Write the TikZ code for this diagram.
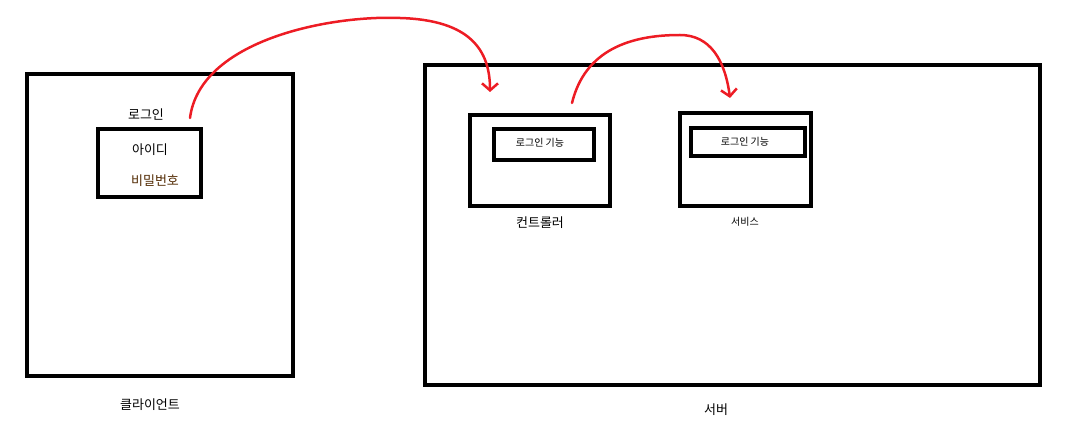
\documentclass[tikz,border=0pt]{standalone}
\usepackage{fontspec}
\newfontfamily\kr{Noto Sans CJK KR}
\usetikzlibrary{arrows.meta}
\begin{document}
\begin{tikzpicture}[x=1pt,y=-1pt,
  box/.style={draw=black,line width=4pt},
  ibox/.style={draw=black,line width=3.5pt},
  lbl/.style={font=\kr\fontsize{13}{15}\selectfont,inner sep=0pt},
  slbl/.style={font=\kr\fontsize{10}{12}\selectfont,inner sep=0pt},
  redarr/.style={draw={rgb,255:red,237;green,28;blue,36},line width=2.5pt,line cap=round,-{Straight Barb[length=7pt,width=16pt,line width=2.5pt]}}]
\useasboundingbox (0,0) rectangle (1070,438);
\draw[box] (27,74) rectangle (293,376);
\draw[ibox] (98,129) rectangle (201,197);
\node[lbl] (login) at (146,115) {로그인};
\node[lbl] (id) at (150,150) {아이디};
\node[lbl,text={rgb,255:red,80;green,40;blue,0}] (pw) at (155,181) {비밀번호};
\node[lbl] (client) at (150,405) {클라이언트};
\draw[box] (425,65) rectangle (1040,385);
\node[lbl] (server) at (716,410) {서버};
\draw[box] (470,115) rectangle (610,206);
\draw[ibox] (494,129) rectangle (594,160);
\node[slbl] (cf) at (540,143) {로그인 기능};
\node[lbl] (ctrl) at (540,223) {컨트롤러};
\draw[box] (680,113) rectangle (811,206);
\draw[ibox] (691,128) rectangle (805,156);
\node[slbl] (sf) at (745,142) {로그인 기능};
\node[slbl] (svc) at (745,222) {서비스};
\coordinate (a1s) at (190,118);
\coordinate (a1e) at (490,92);
\coordinate (a2s) at (572,103);
\coordinate (a2e) at (730,98);
\draw[redarr] (a1s) .. controls (200,40) and (330,15) .. (400,18) .. controls (470,20) and (490,50) .. (a1e);
\draw[redarr] (a2s) .. controls (585,50) and (630,35) .. (680,35) .. controls (710,35) and (725,60) .. (a2e);
\end{tikzpicture}
\end{document}
